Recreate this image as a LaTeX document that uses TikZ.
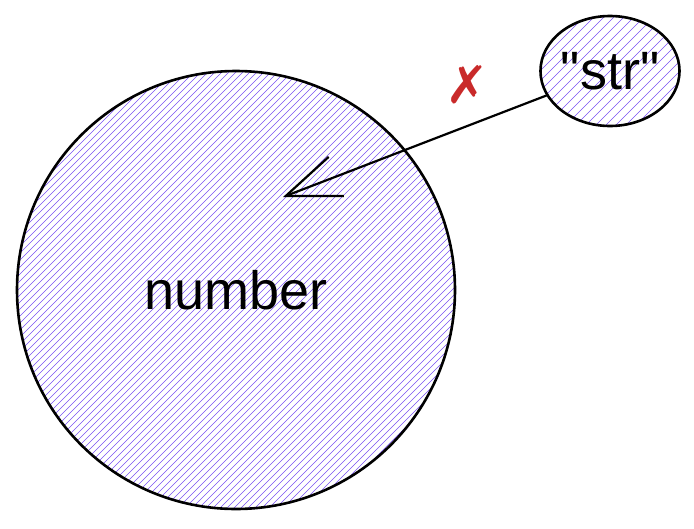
\documentclass[tikz,border=0pt]{standalone}
\usepackage{fontspec}
\newfontfamily\labelfont{Liberation Sans}
\newfontfamily\symfont{DejaVu Sans}
\usetikzlibrary{arrows.meta,shapes.geometric}
\definecolor{hatchviolet}{RGB}{121,80,242}
\definecolor{crossred}{RGB}{201,42,42}

\begin{document}
\begin{tikzpicture}[x=1pt, y=-1pt,
hatch line/.style={hatchviolet, line width=0.6pt},
hatched/.style={path picture={
    \foreach \i in {0,...,110}
        \draw[hatch line] ([shift={({\i*#1-630},300)}]path picture bounding box.center) -- ++(600,-600);
}},
blob/.style={circle, draw=black, line width=2.6pt, inner sep=0pt, outer sep=0pt,
    font=\labelfont\fontsize{54}{60}\selectfont},
conn/.style={line width=2.2pt, line cap=round, line join=round,
    -{Straight Barb[length=54pt, width=42pt, line width=2.2pt]}}]
\useasboundingbox (0,0) rectangle (694,528);
\node[blob, hatched=7, minimum size=438pt] (num) at (236,290) {number};
\node[blob, ellipse, hatched=10, minimum width=126pt, minimum height=110pt] (str) at (610,71) {"str"};
\coordinate (tip) at (283,197);
\draw[conn] (str) -- (tip);
\node[text=crossred, font=\symfont\fontsize{52}{52}\selectfont] (nope) at (467,85) {✗};
\end{tikzpicture}
\end{document}
